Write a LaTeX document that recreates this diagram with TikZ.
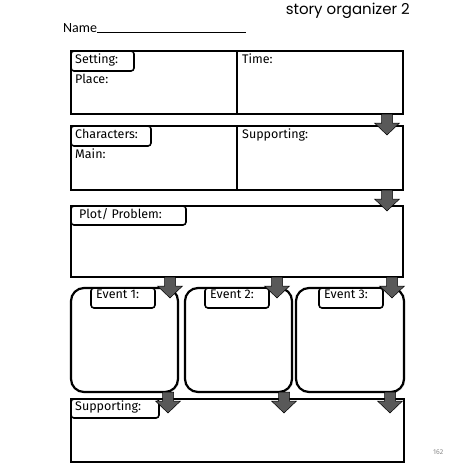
\documentclass[tikz,border=0pt]{standalone}
\usepackage{fontspec}
\setmainfont{Fira Sans}
\newfontfamily\titlefont{Poppins}
\newfontfamily\namefont{Carlito}
\usetikzlibrary{calc,shadows}

\tikzset{
  box/.style={draw, line width=2.2pt, fill=white, drop shadow={shadow xshift=1.2pt, shadow yshift=-1.2pt, opacity=0.25}},
  tab/.style={draw, line width=1.6pt, rounded corners=3pt, fill=white},
  lbl/.style={anchor=north west, inner sep=0pt, font=\fontsize{12.5}{14}\selectfont},
  blockarrow/.style={fill=black!65, draw=black, line width=0.5pt}
}
% block arrow hanging down from a named coordinate
\newcommand{\downblock}[1]{%
  \draw[blockarrow] ($(#1)+(-5.5,0)$) -- ($(#1)+(5.5,0)$) -- ($(#1)+(5.5,9)$) -- ($(#1)+(12.5,9)$)
    -- ($(#1)+(0,21)$) -- ($(#1)+(-12.5,9)$) -- ($(#1)+(-5.5,9)$) -- cycle;}

\begin{document}
\begin{tikzpicture}[x=1pt,y=-1pt]
	\useasboundingbox (0,0) rectangle (474,474);
	% heading
	\node[anchor=base east, inner sep=0pt, font=\titlefont\fontsize{15}{17}\selectfont] (title) at (410,14) {story organizer 2};
	\node[anchor=base west, inner sep=0pt, font=\namefont\fontsize{14}{16}\selectfont] (name) at (63,32) {Name};
	\draw[line width=0.6pt] (name.base east) -- ++(149,0);
	% setting
	\draw[box] (71,51) rectangle (403,114);
	\draw[line width=2pt] (237,51) -- (237,114);
	\draw[tab] (71,51) rectangle (134,71);
	\node[lbl] (setting) at (75,54) {Setting:};
	\node[lbl] (place) at (75,74) {Place:};
	\node[lbl] (time) at (242,54) {Time:};
	% characters
	\draw[box] (71,126) rectangle (403,190);
	\draw[line width=2pt] (237,126) -- (237,190);
	\draw[tab] (71,126) rectangle (151,146);
	\node[lbl] (characters) at (75,129) {Characters:};
	\node[lbl] (main) at (75,149) {Main:};
	\node[lbl] (supporting) at (242,129) {Supporting:};
	% plot
	\draw[box] (71,206) rectangle (403,277);
	\draw[tab] (71,206) rectangle (186,225);
	\node[lbl] (plot) at (79,208) {Plot/ Problem:};
	% events
	\foreach \xa/\xb/\tx/\n in {71/178/91/1, 185/292/205/2, 296/404/319/3}{
		\draw[box, rounded corners=13pt] (\xa,288) rectangle (\xb,392);
		\draw[tab] (\tx,288) rectangle ({\tx+64},308);
		\node[lbl] (event\n) at ({\tx+5},290) {Event \n:};
	}
	% supporting
	\draw[box] (71,399) rectangle (404,462);
	\draw[tab] (71,399) rectangle (159,418);
	\node[lbl] (support) at (75,401) {Supporting:};
	% arrows
	\coordinate (a1) at (387,114);
	\coordinate (a2) at (387,190);
	\coordinate (b1) at (170,277);
	\coordinate (b2) at (277,277);
	\coordinate (b3) at (392,277);
	\coordinate (c1) at (168,392);
	\coordinate (c2) at (284,392);
	\coordinate (c3) at (390,392);
	\foreach \c in {a1,a2,b1,b2,b3,c1,c2,c3}{\downblock{\c}}
	\node[anchor=base west, inner sep=0pt, text=black!45, font=\fontsize{7}{8}\selectfont] (page) at (433,454) {162};
\end{tikzpicture}
\end{document}
